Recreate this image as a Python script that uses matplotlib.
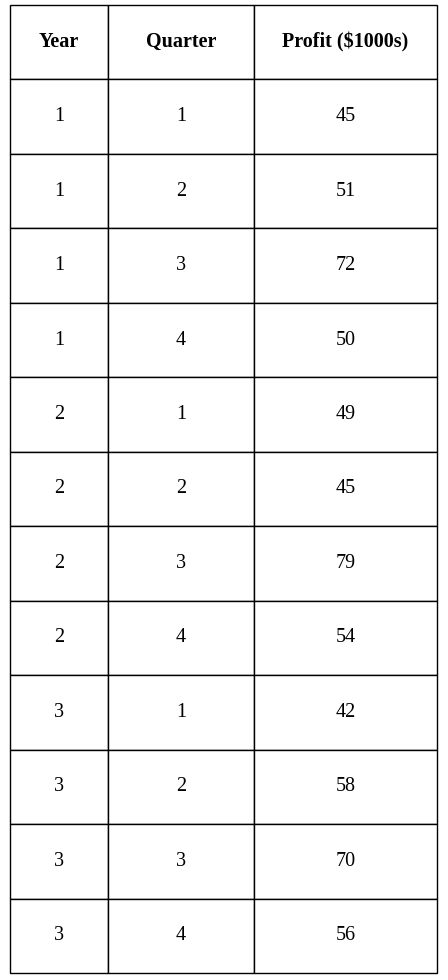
import matplotlib.pyplot as plt

years = [1, 1, 1, 1, 2, 2, 2, 2, 3, 3, 3, 3]
quarters = [1, 2, 3, 4, 1, 2, 3, 4, 1, 2, 3, 4]
profits = [45, 51, 72, 50, 49, 45, 79, 54, 42, 58, 70, 56]
headers = ["Year", "Quarter", "Profit ($1000s)"]

plt.rcParams['font.family'] = 'serif'
plt.rcParams['font.serif'] = ['Liberation Serif', 'DejaVu Serif']

fig = plt.figure(figsize=(4.48, 9.8), dpi=100)
ax = fig.add_axes([0, 0, 1, 1])
ax.axis('off')

cells = [[str(y), str(q), str(p)] for y, q, p in zip(years, quarters, profits)]
W, H = 448, 980
left, right, top, bottom = 10, 437, 5, 973
col_edges = [10, 108, 254, 437]
widths = [(col_edges[i + 1] - col_edges[i]) / (right - left) for i in range(3)]

tbl = ax.table(cellText=cells, colLabels=headers, colWidths=widths,
               cellLoc='center',
               bbox=[left / W, 1 - bottom / H, (right - left) / W, (bottom - top) / H])
tbl.auto_set_font_size(False)
for (r, c), cell in tbl.get_celld().items():
    cell.set_edgecolor('black')
    cell.set_linewidth(1.0)
    t = cell.get_text()
    t.set_fontfamily('Liberation Serif')
    t.set_fontsize(14.5)
    if r == 0:
        t.set_fontweight('bold')

fig.savefig('out.png', dpi=100)
